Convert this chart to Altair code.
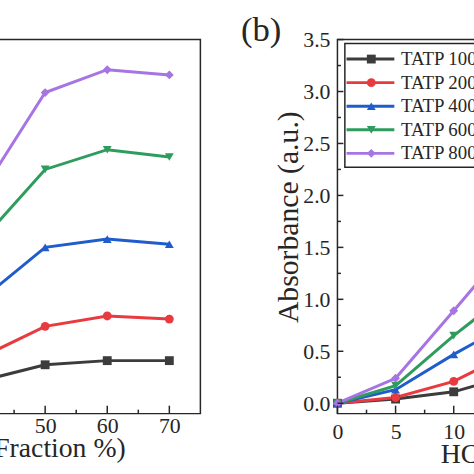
import altair as alt
import pandas as pd

FONT = "Liberation Serif"
INK = "#262626"

series = ["TATP 100 ppm", "TATP 200 ppm", "TATP 400 ppm", "TATP 600 ppm", "TATP 800 ppm"]
colors = ["#3c3c3c", "#e83a3f", "#1f5ccc", "#2e9c5c", "#a674e3"]
shapes = ["square", "circle", "triangle-up", "triangle-down", "diamond"]

# panel (a): absorbance against volume fraction
fraction = [40, 50, 60, 70]
abs_a_100 = [0.22, 0.37, 0.41, 0.41]
abs_a_200 = [0.45, 0.74, 0.84, 0.81]
abs_a_400 = [1.01, 1.50, 1.58, 1.53]
abs_a_600 = [1.58, 2.25, 2.44, 2.37]
abs_a_800 = [2.05, 2.99, 3.21, 3.16]

# panel (b): absorbance against added HCl
hcl = [0, 5, 10, 15]
abs_b_100 = [0.0, 0.04, 0.11, 0.27]
abs_b_200 = [0.0, 0.055, 0.21, 0.49]
abs_b_400 = [0.0, 0.13, 0.47, 0.78]
abs_b_600 = [0.0, 0.17, 0.65, 1.09]
abs_b_800 = [0.0, 0.24, 0.89, 1.55]

fraction_ticks = [40, 50, 60, 70]
fraction_minor = [45, 55, 65]
hcl_ticks = [0, 5, 10, 15, 20, 25]
hcl_minor = [2.5, 7.5, 12.5, 17.5, 22.5]
abs_ticks = [0.0, 0.5, 1.0, 1.5, 2.0, 2.5, 3.0, 3.5]
abs_minor = [0.25, 0.75, 1.25, 1.75, 2.25, 2.75, 3.25]

H = 378
TAG_X = -97.5

color_scale = alt.Scale(domain=series, range=colors)
shape_scale = alt.Scale(domain=series, range=shapes)
y_scale = alt.Scale(domain=[-0.1, 3.5], nice=False, zero=False)
row_scale = alt.Scale(domain=[0, 4], range=[19.7, 115])


def long_table(xs, columns):
    rows = []
    for name, values in zip(series, columns):
        for x, v in zip(xs, values):
            rows.append({"x": x, "absorbance": v, "series": name})
    return pd.DataFrame(rows)


def one_row():
    return pd.DataFrame({"k": [0]})


def legend_layers():
    table = pd.DataFrame({"series": series, "row": list(range(len(series)))})
    box = alt.Chart(one_row()).mark_rect(
        fill="white", stroke=INK, strokeWidth=1.5
    ).encode(x=alt.value(7.5), x2=alt.value(200), y=alt.value(4), y2=alt.value(129))
    row_y = alt.Y("row:Q", scale=row_scale, axis=None)
    key_lines = alt.Chart(table).mark_rule(strokeWidth=3).encode(
        x=alt.value(9.2), x2=alt.value(57.5), y=row_y,
        color=alt.Color("series:N", scale=color_scale, legend=None),
    )
    key_points = alt.Chart(table).mark_point(filled=True, size=80, opacity=1).encode(
        x=alt.value(34.2), y=row_y,
        color=alt.Color("series:N", scale=color_scale, legend=None),
        shape=alt.Shape("series:N", scale=shape_scale, legend=None),
    )
    key_text = alt.Chart(table).mark_text(
        align="left", baseline="middle", font=FONT, fontSize=19, color=INK
    ).encode(x=alt.value(64.2), y=row_y, text="series:N")
    return [box, key_lines, key_points, key_text]


def panel(table, x_scale, width, x_ticks, x_minor, x_title, title_x, title_align,
          title_y, x_label_pad, tag, with_legend=False):
    x_axis = alt.Axis(
        values=x_ticks, format="d", ticks=False, tickSize=0, domain=False, grid=False,
        labelFlush=False, labelPadding=x_label_pad, labelFontSize=22,
        title=x_title, titleX=title_x, titleY=title_y, titleAlign=title_align,
        titleBaseline="alphabetic", titleFontSize=28,
    )
    y_axis = alt.Axis(
        values=abs_ticks, format=".1f", ticks=False, tickSize=0, domain=False, grid=False,
        labelFlush=False, labelPadding=7.5, labelFontSize=22,
        title="Absorbance (a.u.)", titleAngle=270, titleX=-40.5, titleY=179,
        titleAlign="center", titleBaseline="alphabetic", titleFontSize=30,
    )
    x_enc = alt.X("x:Q", scale=x_scale, axis=x_axis)
    lines = alt.Chart(table).mark_line(strokeWidth=3).encode(
        x=x_enc,
        y=alt.Y("absorbance:Q", scale=y_scale, axis=y_axis),
        color=alt.Color("series:N", scale=color_scale, legend=None),
    )
    points = alt.Chart(table).mark_point(filled=True, size=80, opacity=1).encode(
        x=x_enc,
        y=alt.Y("absorbance:Q", scale=y_scale, axis=None),
        color=alt.Color("series:N", scale=color_scale, legend=None),
        shape=alt.Shape("series:N", scale=shape_scale, legend=None),
    )

    # inward tick marks along the bottom and left edges
    def x_ticks_layer(values, length):
        return alt.Chart(pd.DataFrame({"x": values})).mark_rule(
            color=INK, strokeWidth=1.5
        ).encode(x=x_enc, y=alt.value(H), y2=alt.value(H - length))

    def y_ticks_layer(values, length):
        return alt.Chart(pd.DataFrame({"v": values})).mark_rule(
            color=INK, strokeWidth=1.5
        ).encode(
            y=alt.Y("v:Q", scale=y_scale, axis=None), x=alt.value(0), x2=alt.value(length)
        )

    label = alt.Chart(one_row()).mark_text(
        text=tag, font=FONT, fontSize=35, align="left", baseline="top", color=INK
    ).encode(x=alt.value(TAG_X), y=alt.value(-26.3))
    layers = [
        lines, points,
        x_ticks_layer(x_ticks, 8),
        x_ticks_layer(x_minor, 4),
        y_ticks_layer(abs_ticks, 6),
        y_ticks_layer(abs_minor, 3.5),
        label,
    ]
    if with_legend:
        layers += legend_layers()
    return alt.layer(*layers).resolve_scale(y="independent").properties(
        width=width, height=H
    )


left = panel(
    long_table(fraction, [abs_a_100, abs_a_200, abs_a_400, abs_a_600, abs_a_800]),
    alt.Scale(domain=[35, 75], nice=False, zero=False), 251,
    fraction_ticks, fraction_minor, "(Volume Fraction %)",
    175, "right", 43.5, 2, "(a)",
)
right = panel(
    long_table(hcl, [abs_b_100, abs_b_200, abs_b_400, abs_b_600, abs_b_800]),
    alt.Scale(domain=[0, 25], nice=False, zero=False), 293.75,
    hcl_ticks, hcl_minor, "HCl (μL)",
    104, "left", 49, 8.6, "(b)", with_legend=True,
)

chart = (
    alt.hconcat(left, right, spacing=38.5)
    .properties(
        padding={"left": -147.5, "right": -167.5, "top": 9.5, "bottom": 0},
        background="white",
    )
    .configure_view(stroke=INK, strokeWidth=1.5)
    .configure_axis(
        labelFont=FONT, titleFont=FONT, labelColor=INK, titleColor=INK,
        titleFontWeight="normal",
    )
)

chart.save("out.html", embed_options={"renderer": "svg", "actions": False})
